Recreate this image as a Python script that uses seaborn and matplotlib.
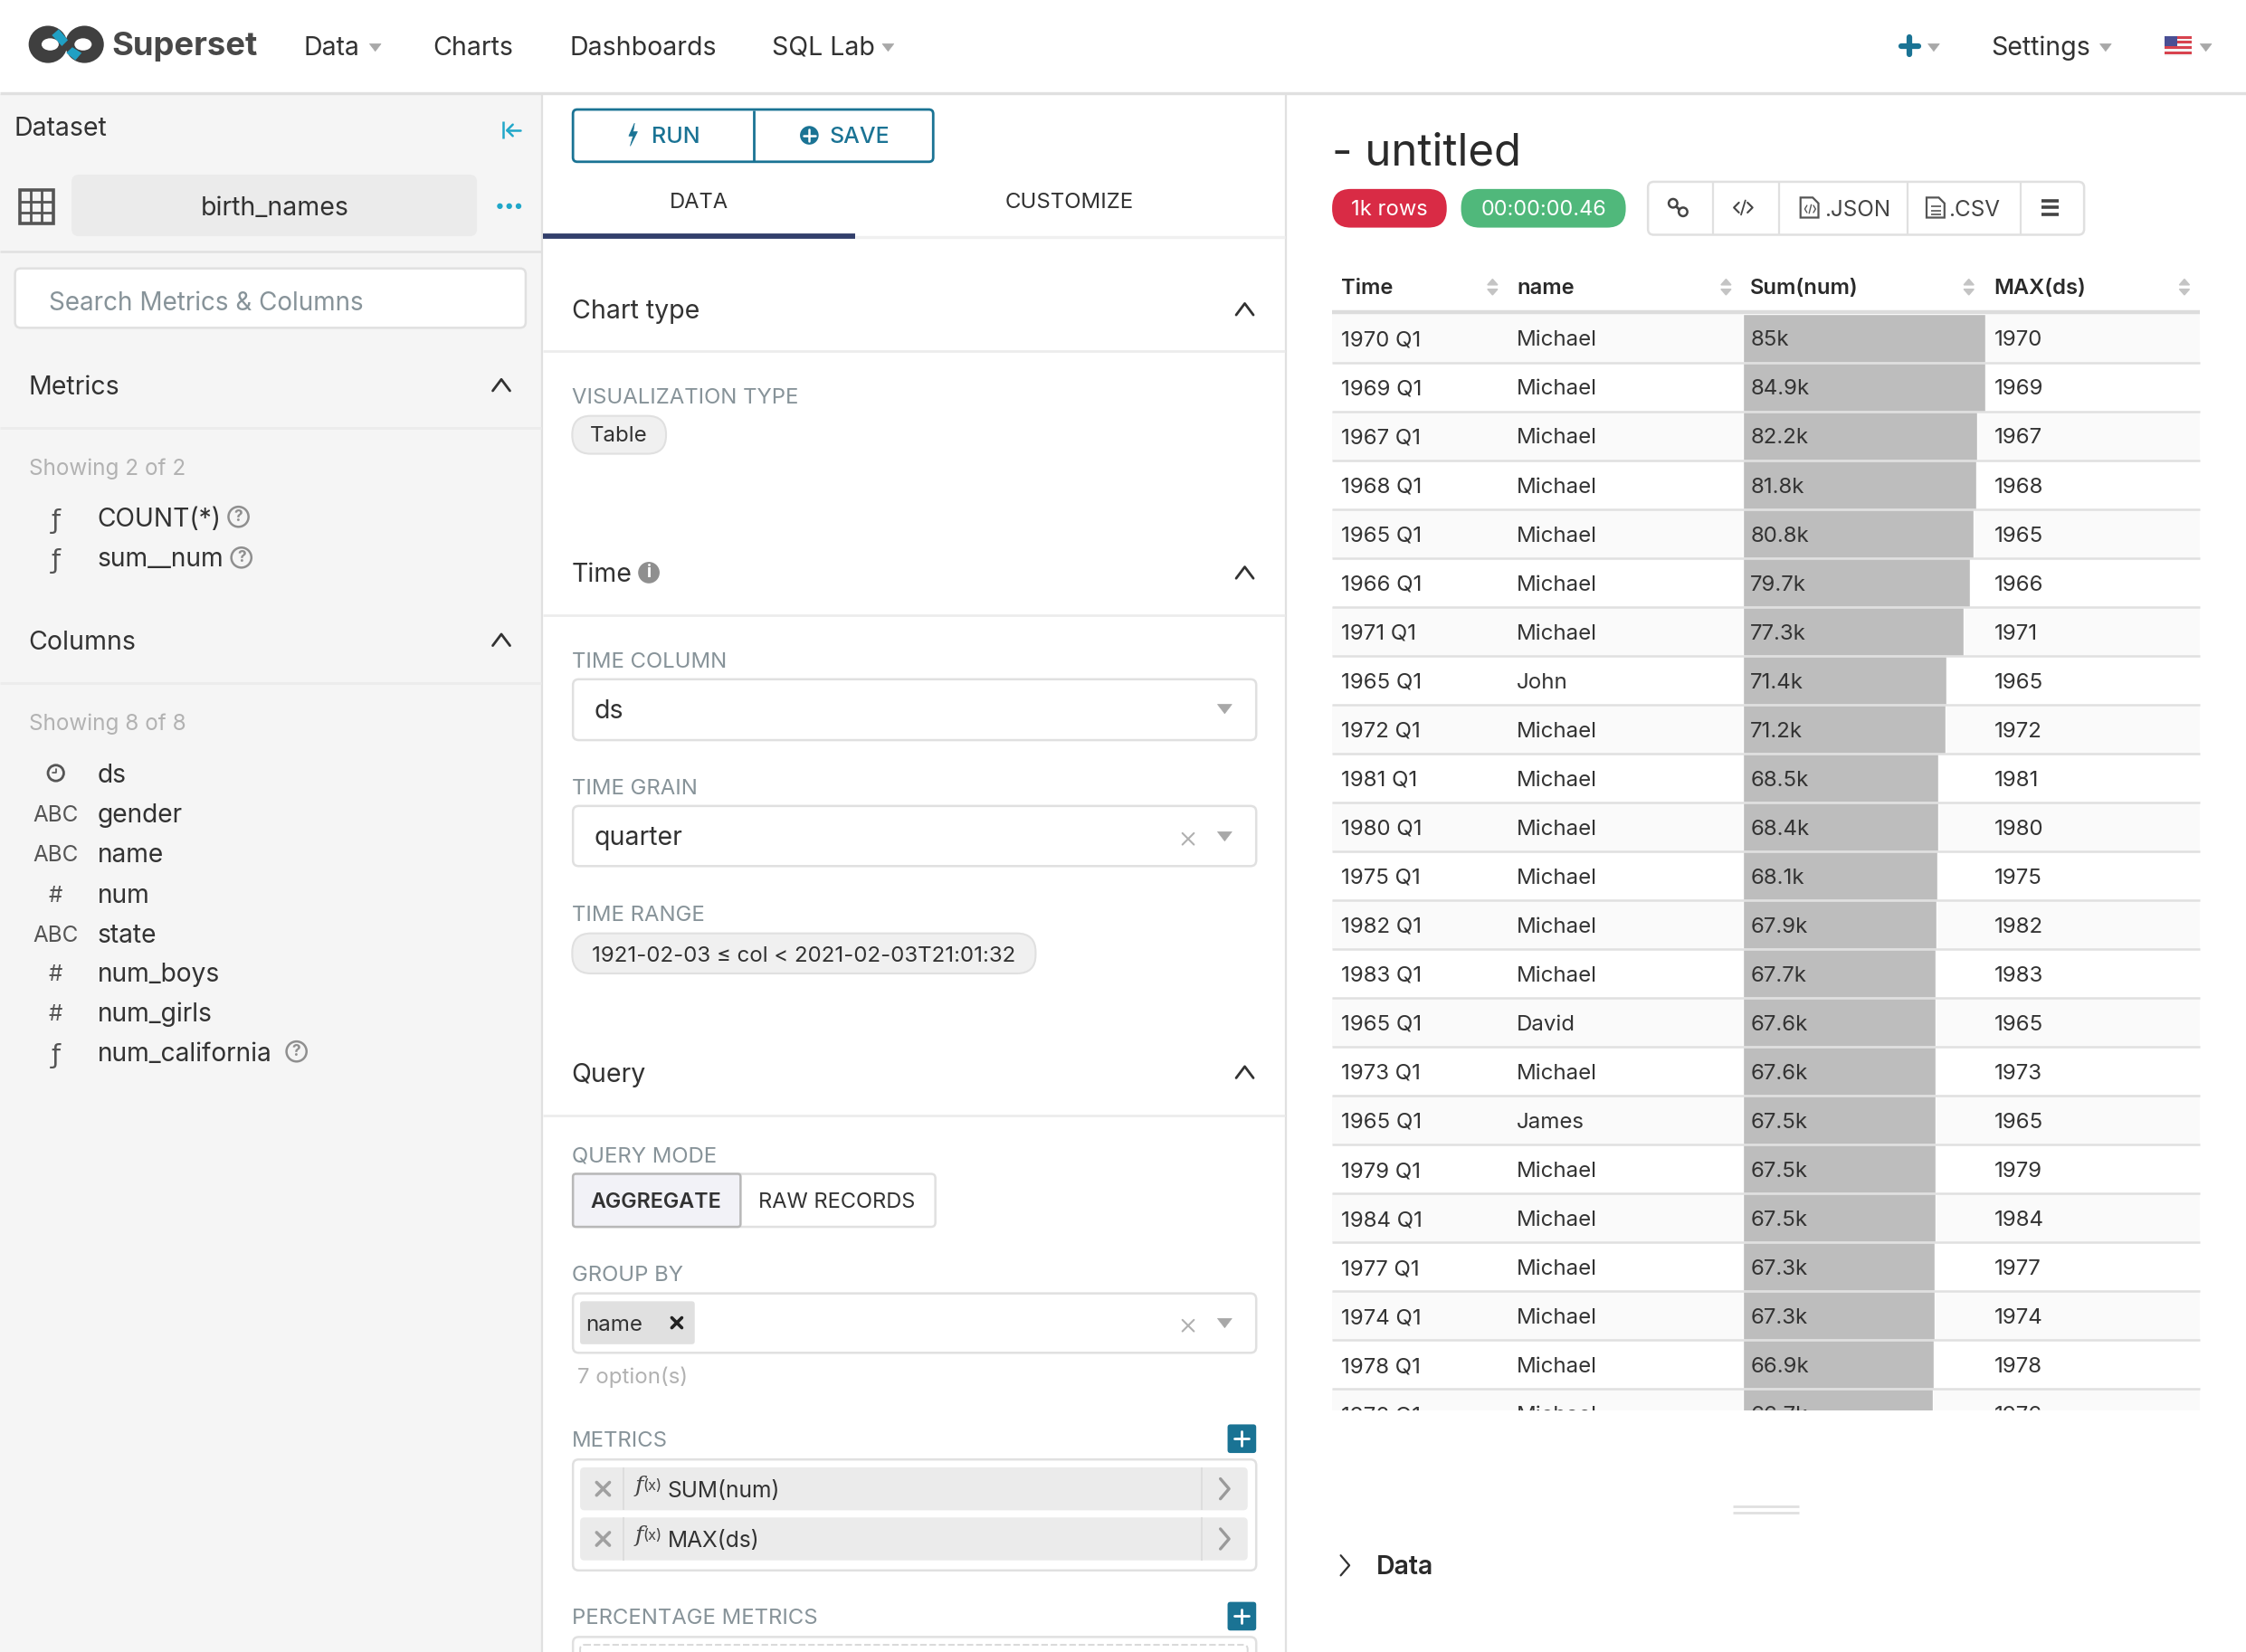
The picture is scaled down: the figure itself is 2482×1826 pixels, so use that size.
import matplotlib
matplotlib.use("Agg")
import matplotlib.pyplot as plt
from matplotlib.patches import FancyBboxPatch, Rectangle, Circle, Polygon, Ellipse
import pandas as pd
import seaborn as sns

# table values
times = ['1970 Q1', '1969 Q1', '1967 Q1', '1968 Q1', '1965 Q1', '1966 Q1', '1971 Q1', '1965 Q1',
         '1972 Q1', '1981 Q1', '1980 Q1', '1975 Q1', '1982 Q1', '1983 Q1', '1965 Q1', '1973 Q1',
         '1965 Q1', '1979 Q1', '1984 Q1', '1977 Q1', '1974 Q1', '1978 Q1', '1976 Q1']
names = ['Michael', 'Michael', 'Michael', 'Michael', 'Michael', 'Michael', 'Michael', 'John',
         'Michael', 'Michael', 'Michael', 'Michael', 'Michael', 'Michael', 'David', 'Michael',
         'James', 'Michael', 'Michael', 'Michael', 'Michael', 'Michael', 'Michael']
sum_num = [85000, 84900, 82200, 81800, 80800, 79700, 77300, 71400, 71200, 68500, 68400, 68100,
           67900, 67700, 67600, 67600, 67500, 67500, 67500, 67300, 67300, 66900, 66700]
sum_labels = ['85k', '84.9k', '82.2k', '81.8k', '80.8k', '79.7k', '77.3k', '71.4k', '71.2k', '68.5k',
              '68.4k', '68.1k', '67.9k', '67.7k', '67.6k', '67.6k', '67.5k', '67.5k', '67.5k', '67.3k',
              '67.3k', '66.9k', '66.7k']
max_ds = ['1970', '1969', '1967', '1968', '1965', '1966', '1971', '1965', '1972', '1981', '1980',
          '1975', '1982', '1983', '1965', '1973', '1965', '1979', '1984', '1977', '1974', '1978', '1976']
table_columns = ['Time', 'name', 'Sum(num)', 'MAX(ds)']

# sidebar lists
metric_rows = ['COUNT(*)', 'sum__num']
column_rows = ['ds', 'gender', 'name', 'num', 'state', 'num_boys', 'num_girls', 'num_california']
column_kinds = ['clock', 'ABC', 'ABC', '#', 'ABC', '#', '#', 'f']

W, H = 1568, 1154
TEAL = '#1a7394'
LINE = '#e0e0e0'
DARK = '#323232'
GREY = '#879399'
LIGHT = '#b2b2b2'

sns.set_theme(style='white')
plt.rcParams['font.family'] = ['Inter', 'DejaVu Sans']

fig = plt.figure(figsize=(24.82, 18.26), dpi=100, facecolor='white')


def full_axes(z):
    a = fig.add_axes([0, 0, 1, 1], zorder=z)
    a.set_xlim(0, W)
    a.set_ylim(H, 0)
    a.axis('off')
    a.patch.set_alpha(0)
    return a


ui = full_axes(0)
top = full_axes(2)


def fs(px):
    return px * 1.583 * 0.72


def txt(x, y, s, size=17.8, color=DARK, weight='normal', ha='left', ax=None, **kw):
    # va center sits a little high for this font, hence the nudge
    return (ax or ui).text(x, y + 1.8, s, fontsize=fs(size), color=color, fontweight=weight, ha=ha,
                           va='center', **kw)


def box(x0, y0, x1, y1, r=4, fc='white', ec='none', lw=1.5, ls='-', z=1):
    ui.add_patch(FancyBboxPatch((x0, y0), x1 - x0, y1 - y0, boxstyle=f'round,pad=0,rounding_size={r}',
                                fc=fc, ec=ec, lw=lw, ls=ls, zorder=z))


def hline(y, x0, x1, color=LINE, lw=2.0, ax=None, z=2):
    (ax or ui).plot([x0, x1], [y, y], color=color, lw=lw, solid_capstyle='butt', zorder=z)


def vline(x, y0, y1, color=LINE, lw=2.0, z=2):
    ui.plot([x, x], [y0, y1], color=color, lw=lw, solid_capstyle='butt', zorder=z)


def caret(x, y, w=4, color='#a8a8a8'):
    ui.add_patch(Polygon([(x - w, y - w * 0.6), (x + w, y - w * 0.6), (x, y + w * 0.7)], fc=color, ec=color,
                         lw=0.5, zorder=3))


def chevron_up(x, y):
    ui.plot([x - 6, x, x + 6], [y + 4, y - 4, y + 4], color='#323232', lw=2.0, zorder=3)


def chevron_right(x, y, color='#9a9a9a', lw=2.4):
    ui.plot([x - 3, x + 3, x - 3], [y - 7, y, y + 7], color=color, lw=lw, zorder=3)


def cross(x, y, r=4, color='#b0b0b0', lw=1.5):
    ui.plot([x - r, x + r], [y - r, y + r], color=color, lw=lw, zorder=3)
    ui.plot([x - r, x + r], [y + r, y - r], color=color, lw=lw, zorder=3)


def help_icon(x, y):
    ui.add_patch(Circle((x, y), 7, fc='none', ec='#8f8f8f', lw=1.8, zorder=3))
    txt(x, y - 1.8, '?', size=11, color='#8f8f8f', ha='center', weight='bold', zorder=4)


def plus_button(y0):
    box(857, y0, 877, y0 + 20, r=2, fc=TEAL)
    ui.plot([862, 872], [y0 + 10, y0 + 10], color='white', lw=2, zorder=3)
    ui.plot([867, 867], [y0 + 5, y0 + 15], color='white', lw=2, zorder=3)


# --- header ---
hline(65, 0, W, lw=2.4, z=5)
for cx in (33.5, 59):
    ui.add_patch(Ellipse((cx, 31), 27, 26, fc='#3f3f3f', ec='none', zorder=2))
ui.add_patch(Polygon([(36.2, 24.6), (41, 20.4), (47.4, 28), (43.2, 32.2)], fc='#20a0c4', ec='none', zorder=3))
ui.add_patch(Polygon([(46.3, 36.9), (50.5, 33), (57, 37), (52.6, 42.1)], fc='#20a0c4', ec='none', zorder=3))
for cx in (35, 58):
    ui.add_patch(Ellipse((cx, 31), 12, 8.5, fc='white', ec='none', zorder=5))
txt(78, 30.5, 'Superset', size=23, color='#484848', weight='bold')
txt(212, 32, 'Data', size=18)
caret(262, 33)
txt(302, 32, 'Charts', size=18)
txt(398, 32, 'Dashboards', size=18)
txt(539, 32, 'SQL Lab', size=18)
caret(620, 33)
ui.plot([1327, 1339], [32, 32], color=TEAL, lw=4.5, solid_capstyle='round', zorder=3)
ui.plot([1333, 1333], [26, 38], color=TEAL, lw=4.5, solid_capstyle='round', zorder=3)
caret(1350, 33)
txt(1390, 32, 'Settings', size=18)
caret(1470, 33)
ui.add_patch(Rectangle((1511, 25), 19, 14, fc='#f4f4f4', ec='none', zorder=2))
for i in range(4):
    ui.add_patch(Rectangle((1511, 25 + i * 3.7), 19, 1.9, fc='#d8434e', ec='none', zorder=2))
ui.add_patch(Rectangle((1511, 25), 9, 7.5, fc='#4a4f94', ec='none', zorder=3))
caret(1540, 33)

# --- left panel ---
ui.add_patch(Rectangle((0, 66), 378, H - 66, fc='#f5f5f5', ec='none', zorder=0))
vline(378.5, 66, H, lw=1.6)
txt(10, 88, 'Dataset', size=18)
vline(351, 85, 97, color='#20a7c9', lw=1.8)
ui.plot([363, 354], [91, 91], color='#20a7c9', lw=1.8, zorder=3)
ui.plot([358, 354, 358], [87, 91, 95], color='#20a7c9', lw=1.8, zorder=3)
ui.add_patch(Rectangle((14, 133), 23, 23, fc='none', ec='#555555', lw=2.6, zorder=3))
for k in (1, 2):
    vline(14 + k * 23 / 3, 133, 156, color='#555555', lw=2)
    hline(133 + k * 23 / 3, 14, 37, color='#555555', lw=2)
box(50, 122, 333, 165, r=5, fc='#ebebeb')
txt(192, 144, 'birth_names', size=18, ha='center')
for dx in (349, 355.5, 362):
    ui.add_patch(Circle((dx, 144), 2, fc='#20a7c9', ec='none', zorder=3))
hline(176, 0, 378, lw=1.8)
box(10.5, 187.5, 367, 229, r=4, fc='white', ec=LINE, lw=1.8)
txt(34, 210, 'Search Metrics & Columns', size=17.6, color=GREY)
txt(20, 269, 'Metrics', size=18)
chevron_up(350, 269)
hline(299, 0, 378, color='#ececec')
txt(20, 326, 'Showing 2 of 2', size=15.3, color=LIGHT)
for y, label in zip((361, 389), metric_rows):
    txt(39, y + 1, 'ƒ', size=18, color='#555555', ha='center', family='DejaVu Sans')
    txt(68, y, label)
help_icon(166.5, 361)
help_icon(168.5, 389.5)
txt(20, 447, 'Columns', size=18)
chevron_up(350, 447)
hline(477, 0, 378, color='#ececec')
txt(20, 504, 'Showing 8 of 8', size=15.3, color=LIGHT)
col_y = [540, 568, 596, 624, 652, 679, 707, 735]
for y, label, kind in zip(col_y, column_rows, column_kinds):
    if kind == 'clock':
        ui.add_patch(Circle((39, y), 5.5, fc='none', ec='#555555', lw=2, zorder=3))
        ui.plot([39, 39, 36.5], [y - 3, y, y], color='#555555', lw=1.2, zorder=3)
    elif kind == 'f':
        txt(39, y + 1, 'ƒ', size=18, color='#555555', ha='center', family='DejaVu Sans')
    else:
        txt(39, y, kind, size=15.3, color='#555555', ha='center')
    txt(68, y, label)
help_icon(207, 734.5)

# --- middle panel ---
vline(897.5, 66, H, lw=1.6)
box(400, 76.5, 651.5, 113, r=3, fc='white', ec=TEAL, lw=2)
vline(526, 77, 113, color=TEAL, lw=2)
ui.add_patch(Polygon([(443, 86), (439, 95), (442, 95), (440, 102), (445, 92), (442, 92)], fc=TEAL, ec=TEAL,
                     lw=0.5, zorder=3))
txt(472, 94, 'RUN', size=15.8, color=TEAL, ha='center', weight='medium')
ui.add_patch(Circle((565, 94.5), 6.5, fc=TEAL, ec='none', zorder=3))
ui.plot([561, 569], [94.5, 94.5], color='white', lw=1.8, zorder=4)
ui.plot([565, 565], [90.5, 98.5], color='white', lw=1.8, zorder=4)
txt(600, 94, 'SAVE', size=15.8, color=TEAL, ha='center', weight='medium')
txt(488, 140, 'DATA', size=15, ha='center')
txt(746.5, 140, 'CUSTOMIZE', size=15.2, ha='center')
hline(165.5, 597, 897, color='#f0f0f0', lw=2.4)
hline(165, 379, 597, color='#323f6b', lw=4.2)

txt(399, 216, 'Chart type', size=18)
chevron_up(869, 216)
hline(245.5, 379, 897, color='#ececec')
txt(399, 276, 'VISUALIZATION TYPE', size=15.1, color=GREY)
box(399.5, 290.5, 465, 317, r=13, fc='#f0f0f0', ec=LINE)
txt(432, 303, 'Table', size=15.2, ha='center')

txt(399, 400, 'Time', size=18)
ui.add_patch(Circle((453, 400), 7.5, fc='#8f8f8f', ec='none', zorder=3))
txt(453, 398.5, 'i', size=12, color='white', ha='center', weight='bold', zorder=4)
chevron_up(869, 400)
hline(430, 379, 897, color='#ececec')
txt(399, 461, 'TIME COLUMN', size=15.1, color=GREY)
box(400, 474.5, 877, 517, r=4, ec=LINE, lw=1.8)
txt(415, 495, 'ds', size=18)
caret(855, 495, w=5)
txt(399, 549, 'TIME GRAIN', size=15.1, color=GREY)
box(400, 563, 877, 605, r=4, ec=LINE, lw=1.8)
txt(415, 584, 'quarter', size=18)
cross(829.5, 586)
caret(855, 584, w=5)
txt(399, 638, 'TIME RANGE', size=15.1, color=GREY)
box(399.5, 652, 723, 680, r=13, fc='#f0f0f0', ec=LINE)
txt(413, 666, '1921-02-03 ≤ col < 2021-02-03T21:01:32', size=15.2)

txt(399, 749, 'Query', size=18)
chevron_up(869, 749)
hline(779, 379, 897, color='#ececec')
txt(399, 806, 'QUERY MODE', size=15.1, color=GREY)
box(400, 820, 653, 857, r=3, ec=LINE, lw=1.8)
box(400, 820, 517, 857, r=2, fc='#f2f2f7', ec='#b8b8b8', lw=1.8, z=2)
txt(458, 838, 'AGGREGATE', size=14.7, ha='center', weight='semibold')
txt(584, 838, 'RAW RECORDS', size=14.9, ha='center')
txt(399, 889, 'GROUP BY', size=15.1, color=GREY)
box(400, 903.5, 877, 945, r=4, ec=LINE, lw=1.8)
box(405, 909, 485, 939, r=2, fc='#e0e0e0')
txt(409, 924, 'name', size=15.2)
cross(472.5, 924, r=3.5, color='#222222', lw=2.6)
cross(829.5, 926)
caret(855, 924, w=5)
txt(403, 960, '7 option(s)', size=15.2, color=LIGHT)

txt(399, 1005, 'METRICS', size=15.1, color=GREY)
plus_button(995)
box(400, 1019.5, 877, 1097, r=4, ec=LINE, lw=1.8)
for y0, label in zip((1025, 1060), ('SUM(num)', 'MAX(ds)')):
    box(405, y0, 871, y0 + 30, r=3, fc='#ebebeb')
    vline(435.5, y0, y0 + 30, color='#dddddd', lw=1.4)
    vline(839, y0, y0 + 30, color='#dddddd', lw=1.4)
    cross(421, y0 + 15, r=4.5, color='#a0a0a0', lw=2.6)
    txt(443, y0 + 11, 'f', size=16, color='#444444', family='DejaVu Serif', style='italic')
    txt(449, y0 + 11, '(x)', size=10.5, color='#444444')
    txt(466, y0 + 15, label, size=15.5)
    chevron_right(855, y0 + 15)
txt(399, 1129, 'PERCENTAGE METRICS', size=15.1, color=GREY)
plus_button(1119)
box(400, 1143.5, 877, 1190, r=4, ec=LINE, lw=1.8)
box(405, 1149, 871, 1190, r=3, fc='none', ec='#d8d8d8', lw=1.4, ls='--')

# --- right panel ---
txt(930, 105.5, '- untitled', size=31, color='#2a2a2a')
box(930, 132, 1010, 159, r=13, fc='#d92b45')
txt(970, 145, '1k rows', size=15, color='white', ha='center')
box(1020, 132, 1135, 159, r=13, fc='#50b87b')
txt(1077.5, 145, '00:00:00.46', size=14.8, color='white', ha='center')
box(1150.5, 127, 1455, 164, r=4, ec=LINE, lw=1.8)
for vx in (1196, 1242, 1332, 1411):
    vline(vx, 127, 164, lw=1.6)
ui.plot([1167, 1175], [141, 149], color='#444444', lw=2, zorder=3)
ui.add_patch(Circle((1168, 142), 3, fc='white', ec='#444444', lw=1.8, zorder=4))
ui.add_patch(Circle((1175, 148), 3, fc='white', ec='#444444', lw=1.8, zorder=4))
ui.plot([1214, 1210.5, 1214], [141.5, 145, 148.5], color='#444444', lw=1.5, zorder=3)
ui.plot([1220, 1223.5, 1220], [141.5, 145, 148.5], color='#444444', lw=1.5, zorder=3)
ui.plot([1215.5, 1218.5], [150, 140], color='#444444', lw=1.3, zorder=3)
for x0 in (1257, 1345):
    ui.add_patch(Polygon([(x0, 138), (x0 + 8.5, 138), (x0 + 12.5, 142), (x0 + 12.5, 152), (x0, 152)], fc='white',
                         ec='#555555', lw=1.6, zorder=3))
ui.plot([1261.5, 1260, 1261.5], [143.5, 146, 148.5], color='#555555', lw=1, zorder=4)
ui.plot([1266, 1267.5, 1266], [143.5, 146, 148.5], color='#555555', lw=1, zorder=4)
ui.plot([1263, 1264.5], [149, 143], color='#555555', lw=1, zorder=4)
for dy in (144, 147, 150):
    hline(dy, 1348, 1355, color='#555555', lw=1.2, z=4)
txt(1273.5, 145, '.JSON', size=15.3, color='#444444')
txt(1360, 145, '.CSV', size=15.3, color='#444444')
for hy in (140, 145, 150):
    hline(hy, 1425, 1437, color='#444444', lw=2.6)

for x, label, sx in zip((936, 1059, 1222, 1392), table_columns, (1042, 1205, 1374.5, 1525)):
    txt(x, 200, label, size=15, weight='semibold', color='#2a2a2a')
    ui.add_patch(Polygon([(sx - 3.5, 199), (sx + 3.5, 199), (sx, 195)], fc='#c4c4c4', ec='#c4c4c4', zorder=3))
    ui.add_patch(Polygon([(sx - 3.5, 202), (sx + 3.5, 202), (sx, 206)], fc='#c4c4c4', ec='#c4c4c4', zorder=3))

ROW_TOP = 219
ROW_H = 34.15
TABLE_BOTTOM = 985
for i in range(len(times)):
    if i % 2 == 0:
        y0 = ROW_TOP + i * ROW_H
        ui.add_patch(Rectangle((930, y0), 606, min(ROW_H, TABLE_BOTTOM - y0), fc='#fafafa', ec='none', zorder=1))

# Sum(num) cell bars, drawn on their own axes so the value axis does the scaling
bar_ax = fig.add_axes([1217 / W, 1 - TABLE_BOTTOM / H, 169 / W, (TABLE_BOTTOM - ROW_TOP) / H], zorder=1)
df = pd.DataFrame({'row': range(len(sum_num)), 'sum_num': sum_num})
sns.barplot(data=df, x='sum_num', y='row', orient='h', order=list(range(len(sum_num))), color='#bdbdbd',
            saturation=1, width=1, ax=bar_ax)
bar_ax.set_xlim(0, 85000)
bar_ax.set_ylim((TABLE_BOTTOM - ROW_TOP) / ROW_H - 0.5, -0.5)
bar_ax.axis('off')
bar_ax.patch.set_alpha(0)

clip = Rectangle((930, ROW_TOP), 606, TABLE_BOTTOM - ROW_TOP, transform=top.transData)
hline(218, 930, 1536, color='#dcdcdc', lw=3.2, ax=top)
for i in range(len(times)):
    yc = ROW_TOP + (i + 0.5) * ROW_H
    if i < len(times) - 1:
        hline(ROW_TOP + (i + 1) * ROW_H, 930, 1536, color=LINE, lw=1.8, ax=top)
    for x, s in zip((936, 1059, 1222, 1392), (times[i], names[i], sum_labels[i], max_ds[i])):
        t = txt(x, yc, s, size=15.2, color='#333333', ax=top)
        t.set_clip_path(clip)
        t.set_clip_on(True)

hline(1052.5, 1210, 1256, lw=2)
hline(1056.5, 1210, 1256, lw=2)
chevron_right(939, 1093.5, color='#323232', lw=1.6)
txt(961, 1093, 'Data', size=18, weight='semibold', color='#2a2a2a')

fig.savefig('out.png', dpi=100, facecolor='white')
